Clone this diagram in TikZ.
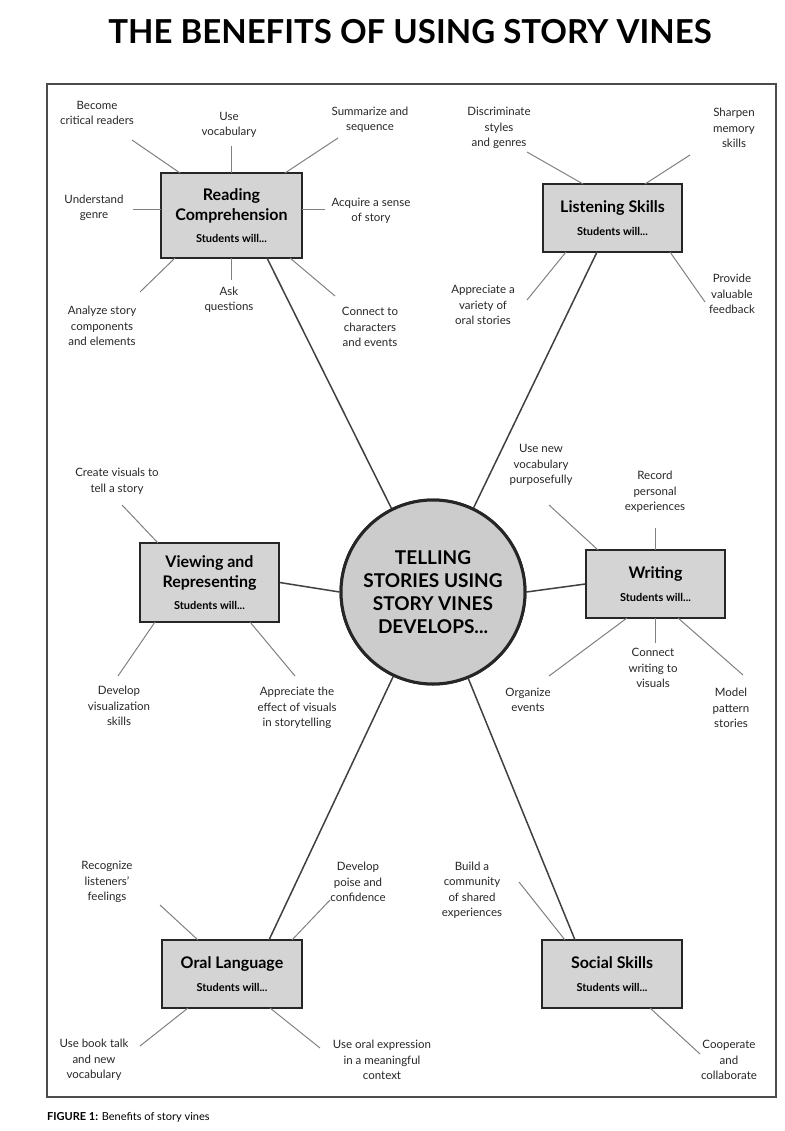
\documentclass[tikz,border=0pt]{standalone}
\usepackage{fontspec}
\setmainfont{Lato}
\newcommand{\hd}{\fontsize{16}{20}\bfseries\selectfont}
\newcommand{\sw}{\fontsize{11}{13}\bfseries\selectfont Students will...}
\begin{document}
\begin{tikzpicture}[x=1pt,y=-1pt,
  leaf/.style={align=center,font=\fontsize{11.5}{15.5}\selectfont,text=black!85,inner sep=1pt},
  box/.style={draw=black!85,line width=1.4pt,fill=black!17,align=center,inner sep=0pt,font=\hd},
  spoke/.style={draw=black!75,line width=1.5pt},
  twig/.style={draw=black!50,line width=1pt}]
\useasboundingbox (0,0) rectangle (784,1131);
\node[font=\fontsize{33}{36}\bfseries\selectfont] (title) at (410,32) {THE BENEFITS OF USING STORY VINES};
\draw[line width=1.2pt,black!70] (47,84) rectangle (776,1097);
\node[anchor=west,font=\fontsize{11}{13}\selectfont,inner sep=0pt] (cap) at (47,1117) {\textbf{FIGURE 1:} Benefits of story vines};

\node[circle,draw=black!85,line width=3pt,fill=black!20,minimum size=184pt,align=center,
  font=\fontsize{19}{23}\bfseries\selectfont] (c) at (433,592) {TELLING\\STORIES USING\\STORY VINES\\DEVELOPS...};

\node[box,minimum width=141pt,minimum height=85pt] (rc) at (231.5,215.5) {Reading\\Comprehension\\[2pt]\sw};
\node[box,minimum width=139pt,minimum height=68pt] (ls) at (612.5,218) {Listening Skills\\[3pt]\sw};
\node[box,minimum width=139pt,minimum height=79pt] (vr) at (209.5,582.5) {Viewing and\\Representing\\[2pt]\sw};
\node[box,minimum width=139pt,minimum height=68pt] (wr) at (655.5,584) {Writing\\[3pt]\sw};
\node[box,minimum width=140pt,minimum height=68pt] (ol) at (232,974) {Oral Language\\[3pt]\sw};
\node[box,minimum width=140pt,minimum height=68pt] (ss) at (612,974) {Social Skills\\[3pt]\sw};

% spokes
\coordinate (rcs) at (267,258);
\coordinate (lss) at (597,252);
\coordinate (ols) at (269,940);
\coordinate (sss) at (575,940);
\draw[spoke] (c) -- (rcs);
\draw[spoke] (c) -- (lss);
\draw[spoke] (c.west) -- (vr.east);
\draw[spoke] (c.east) -- (wr.west);
\draw[spoke] (c) -- (ols);
\draw[spoke] (c) -- (sss);
\node[circle,draw=black!85,line width=3pt,fill=black!20,minimum size=184pt,align=center,
  font=\fontsize{19}{23}\bfseries\selectfont] (c2) at (433,592) {TELLING\\STORIES USING\\STORY VINES\\DEVELOPS...};

% leaves
\newcommand{\lf}[6]{\node[leaf] (#1) at (#2,#3) {#4}; \coordinate (#1a) at #5; \coordinate (#1b) at #6; \draw[twig] (#1a) -- (#1b);}
% reading
\lf{r1}{97}{113}{Become\\critical readers}{(132,140)}{(180,173)}
\lf{r2}{229}{125}{Use\\vocabulary}{(231,146)}{(231,173)}
\lf{r3}{370}{120}{Summarize and\\sequence}{(338,138)}{(285,173)}
\lf{r4}{94}{208}{Understand\\genre}{(133,210)}{(161,210)}
\lf{r5}{371}{211}{Acquire a sense\\of story}{(325,210)}{(302,210)}
\lf{r6}{102}{326}{Analyze story\\components\\and elements}{(140,292)}{(175,258)}
\lf{r7}{229}{300}{Ask\\questions}{(231,280)}{(231,258)}
\lf{r8}{370}{327}{Connect to\\characters\\and events}{(335,296)}{(290,258)}
% listening
\lf{l1}{499}{128}{Discriminate\\styles\\and genres}{(527,152)}{(583,184)}
\lf{l2}{734}{128}{Sharpen\\memory\\skills}{(690,155)}{(645,184)}
\lf{l3}{483}{305}{Appreciate a\\variety of\\oral stories}{(527,300)}{(566,252)}
\lf{l4}{732}{294}{Provide\\valuable\\feedback}{(705,302)}{(670,252)}
% writing
\lf{w1}{541}{465}{Use new\\vocabulary\\purposefully}{(549,505)}{(598,550)}
\lf{w2}{655}{492}{Record\\personal\\experiences}{(655,528)}{(655,550)}
\lf{w3}{653}{668}{Connect\\writing to\\visuals}{(655,643)}{(655,618)}
\lf{w4}{528}{700}{Organize\\events}{(549,676)}{(627,618)}
\lf{w5}{731}{708}{Model\\pattern\\stories}{(743,675)}{(678,618)}
% viewing
\lf{v1}{117}{481}{Create visuals to\\tell a story}{(122,505)}{(158,543)}
\lf{v2}{119}{706}{Develop\\visualization\\skills}{(118,676)}{(155,622)}
\lf{v3}{297}{708}{Appreciate the\\effect of visuals\\in storytelling}{(295,676)}{(250,622)}
% oral
\lf{o1}{107}{882}{Recognize\\listeners'\\feelings}{(160,905)}{(198,940)}
\lf{o2}{358}{882}{Develop\\poise and\\confidence}{(330,900)}{(292,940)}
\lf{o3}{94}{1060}{Use book talk\\and new\\vocabulary}{(140,1046)}{(188,1008)}
\lf{o4}{382}{1060}{Use oral expression\\in a meaningful\\context}{(320,1048)}{(270,1008)}
% social
\lf{s1}{472}{890}{Build a\\community\\of shared\\experiences}{(519,882)}{(565,940)}
\lf{s2}{729}{1060}{Cooperate\\and\\collaborate}{(700,1054)}{(650,1008)}
\end{tikzpicture}
\end{document}
